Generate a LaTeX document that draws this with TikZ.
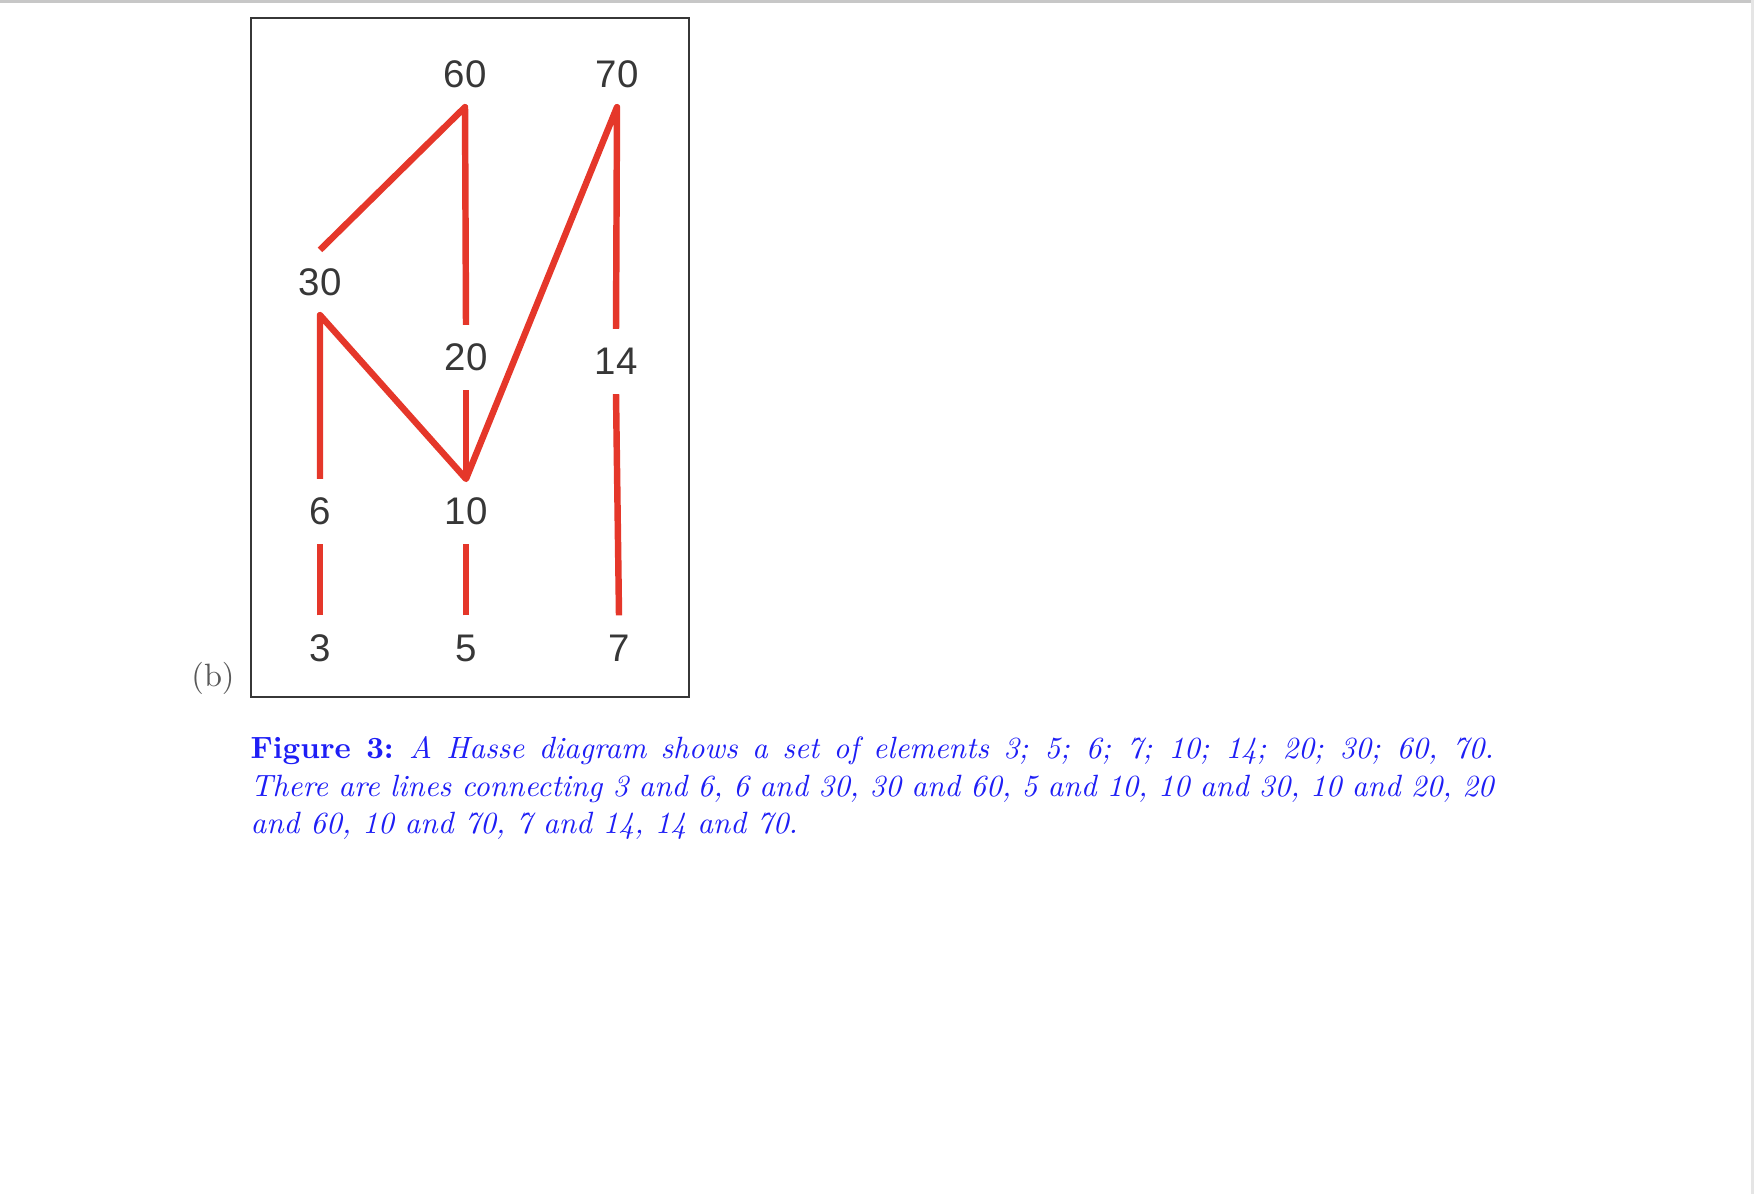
\documentclass[tikz,border=0pt]{standalone}
\usepackage{fontspec}
\newfontfamily\eltfont{Liberation Sans}
\definecolor{edgered}{RGB}{229,55,42}
\definecolor{eltgray}{RGB}{55,55,55}
\definecolor{capblue}{RGB}{30,30,245}
\tikzset{elt/.style={font=\eltfont\fontsize{12.5}{12.5}\selectfont, text=eltgray, minimum height=20.8pt, inner sep=0pt}}
\tikzset{cover/.style={edgered, line width=2.1pt, line join=round}}
\tikzset{frame/.style={draw=eltgray, line width=0.7pt}}

\begin{document}
\begin{tikzpicture}[x=0.325pt,y=-0.325pt]
  \useasboundingbox (0,0) rectangle (1754,1194);
  \draw[black!22, line width=1pt] (0,1) -- (1754,1);
  \draw[black!10, line width=1pt] (1753,0) -- (1753,1194);
  \draw[frame] (251,18) rectangle (689,697);
  \node[font=\fontsize{10.5}{12}\selectfont, text=black!65] (sub) at (213,678) {(b)};
  % elements
  \node[elt] (n60) at (465,74.5) {60};
  \node[elt] (n70) at (617,74.5) {70};
  \node[elt] (n30) at (320,282.5) {30};
  \node[elt] (n20) at (466,357.5) {20};
  \node[elt] (n14) at (616,361.5) {14};
  \node[elt] (n6) at (320,511.5) {6};
  \node[elt] (n10) at (466,511.5) {10};
  \node[elt] (n3) at (320,648) {3};
  \node[elt] (n5) at (466,648) {5};
  \node[elt] (n7) at (619,648) {7};
  % covering lines
  \draw[cover] (n6.north) -- (n30.south) -- (n10.north) -- (n70.south) -- (n14.north);
  \draw[cover] (n30.north) -- (n60.south) -- (n20.north);
  \draw[cover] (n20.south) -- (n10.north);
  \draw[cover] (n3.north) -- (n6.south);
  \draw[cover] (n5.north) -- (n10.south);
  \draw[cover] (n7.north) -- (n14.south);
  % caption
  \node[anchor=north west, text width=404pt, align=justify, inner sep=0pt,
        font=\fontsize{10}{12.2}\selectfont, text=capblue] (cap) at (250,736)
    {\textbf{Figure 3:}\enspace\textit{A Hasse diagram shows a set of elements 3; 5; 6; 7; 10; 14; 20; 30; 60, 70.\linebreak
     There are lines connecting 3 and 6, 6 and 30, 30 and 60, 5 and 10, 10 and 30, 10 and 20, 20\linebreak
     and 60, 10 and 70, 7 and 14, 14 and 70.}};
\end{tikzpicture}
\end{document}
